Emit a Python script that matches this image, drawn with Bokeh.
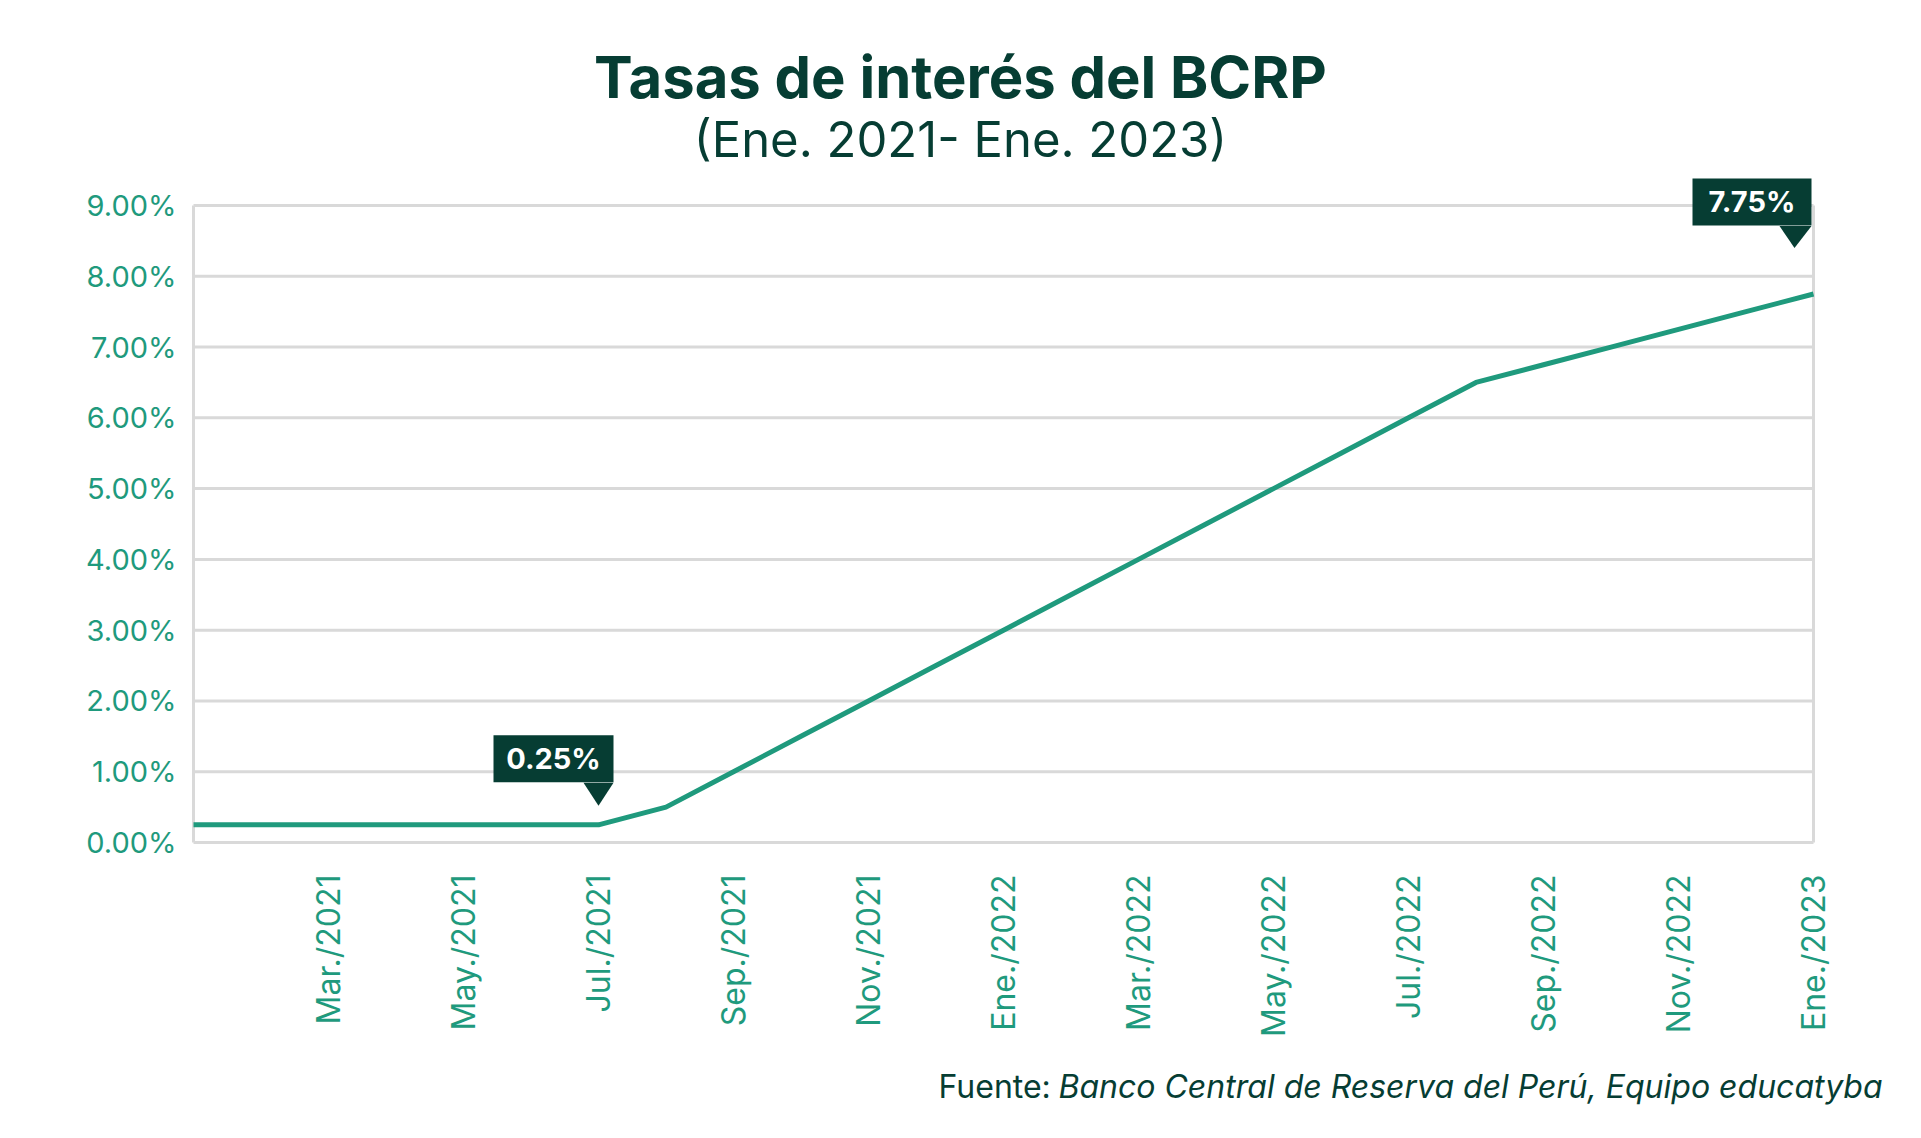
from bokeh.plotting import figure
from bokeh.models import Range1d, FixedTicker, Label
from bokeh.layouts import column
from bokeh.embed import file_html
from bokeh.resources import INLINE

# ---------------- data ----------------
months = ["Ene./2021", "Feb./2021", "Mar./2021", "Abr./2021", "May./2021", "Jun./2021",
          "Jul./2021", "Ago./2021", "Sep./2021", "Oct./2021", "Nov./2021", "Dic./2021",
          "Ene./2022", "Feb./2022", "Mar./2022", "Abr./2022", "May./2022", "Jun./2022",
          "Jul./2022", "Ago./2022", "Sep./2022", "Oct./2022", "Nov./2022", "Dic./2022",
          "Ene./2023"]
rates = [0.25, 0.25, 0.25, 0.25, 0.25, 0.25, 0.25, 0.50, 1.00, 1.50, 2.00, 2.50,
         3.00, 3.50, 4.00, 4.50, 5.00, 5.50, 6.00, 6.50, 6.75, 7.00, 7.25, 7.50, 7.75]
y_ticks = [0, 1, 2, 3, 4, 5, 6, 7, 8, 9]
y_tick_labels = ["0.00%", "1.00%", "2.00%", "3.00%", "4.00%", "5.00%", "6.00%",
                 "7.00%", "8.00%", "9.00%"]
shown_months = ["Mar./2021", "May./2021", "Jul./2021", "Sep./2021", "Nov./2021",
                "Ene./2022", "Mar./2022", "May./2022", "Jul./2022", "Sep./2022",
                "Nov./2022", "Ene./2023"]
callouts = ["Jul./2021", "Ene./2023"]

title = "Tasas de interés del BCRP"
subtitle = "(Ene. 2021- Ene. 2023)"
source_lead = "Fuente:"
source_text = "Banco Central de Reserva del Perú, Equipo educatyba"

# ---------------- style ----------------
TEAL = "#1f9a7d"
DARK = "#063d33"
GRID = "#d9d9d9"
FONT = "Inter"

W = 1920
TOP_H = 176          # title strip height
MAIN_BOTTOM = 1060   # canvas y where the main figure ends
FOOT_H = 76
X0, X1, Y9, Y0 = 193, 1813, 205, 842   # canvas px of first/last month, 9% and 0%
PAD = 3
FL = X0 - PAD        # common left edge of all frames (frames span FL..W)

ppx = (X1 - X0) / (len(months) - 1)
ppy = (Y0 - Y9) / (y_ticks[-1] - y_ticks[0])


def blank(height):
    f = figure(width=W, height=height, output_backend="svg", toolbar_location=None,
               x_range=Range1d(FL, W), y_range=Range1d(0, height),
               x_axis_location=None, y_axis_location=None,
               min_border_left=FL, min_border_right=0, min_border_top=0,
               min_border_bottom=0,
               background_fill_color="white", border_fill_color="white")
    f.title = None
    f.outline_line_color = None
    f.grid.grid_line_color = None
    return f


# ---------------- title strip ----------------
top = blank(TOP_H)
top.add_layout(Label(x=W / 2, y=TOP_H - 76, text=title, text_align="center",
                     text_baseline="alphabetic", text_color=DARK, text_font=FONT,
                     text_font_style="bold", text_font_size="58px"))
top.add_layout(Label(x=W / 2, y=TOP_H - 139, text=subtitle, text_align="center",
                     text_baseline="alphabetic", text_color=DARK, text_font=FONT,
                     text_font_size="49px"))

# ---------------- main chart ----------------
x = list(range(len(months)))
main_h = MAIN_BOTTOM - TOP_H
p = figure(width=W, height=main_h, output_backend="svg", toolbar_location=None,
           x_range=Range1d(-PAD / ppx, len(months) - 1 + (W - X1) / ppx),
           y_range=Range1d(y_ticks[0] - PAD / ppy, y_ticks[-1] + (Y9 - TOP_H) / ppy),
           min_border_left=FL, min_border_right=0,
           min_border_top=0, min_border_bottom=MAIN_BOTTOM - Y0 - PAD,
           background_fill_color="white", border_fill_color="white")
p.title = None
p.outline_line_color = None

p.xaxis.ticker = FixedTicker(ticks=[months.index(m) for m in shown_months])
p.xaxis.major_label_overrides = {months.index(m): m for m in shown_months}
p.xaxis.major_label_orientation = 3.14159265 / 2
p.xaxis.major_label_standoff = 23
p.yaxis.ticker = FixedTicker(ticks=y_ticks)
p.yaxis.major_label_overrides = {t: l for t, l in zip(y_ticks, y_tick_labels)}
p.yaxis.major_label_standoff = 8
for ax in (p.xaxis, p.yaxis):
    ax.axis_line_color = None
    ax.major_tick_line_color = None
    ax.minor_tick_line_color = None
    ax.major_label_text_color = TEAL
    ax.major_label_text_font = FONT
p.xaxis.major_label_text_font_size = "32px"
p.yaxis.major_label_text_font_size = "29px"
p.xgrid.grid_line_color = None
p.ygrid.grid_line_color = None

# horizontal gridlines and side borders of the plot area, spanning the months
p.segment(x0=[x[0]] * len(y_ticks), y0=y_ticks, x1=[x[-1]] * len(y_ticks), y1=y_ticks,
          line_color=GRID, line_width=3)
p.segment(x0=[x[0], x[-1]], y0=[y_ticks[0]] * 2, x1=[x[0], x[-1]], y1=[y_ticks[-1]] * 2,
          line_color=GRID, line_width=3)

# series
p.line(x, rates, line_color=TEAL, line_width=5)

# callouts (px offsets converted to data units)
specs = [  # box dx, dy, w, h, tri left dx, right dx, tip dx, tip dy, base dy
    (-45, 66, 120, 47, -15, 15, 0, 19, 42),
    (-61.5, 92, 119, 47, -34, -2, -19, 46, 68),
]
for m, s in zip(callouts, specs):
    i = months.index(m)
    xv, yv = x[i], rates[i]
    cx, cy = xv + s[0] / ppx, yv + s[1] / ppy
    p.rect(x=[cx], y=[cy], width=s[2], height=s[3], width_units="screen",
           height_units="screen", fill_color=DARK, line_color=None)
    p.patch([xv + s[4] / ppx, xv + s[5] / ppx, xv + s[6] / ppx],
            [yv + s[8] / ppy, yv + s[8] / ppy, yv + s[7] / ppy],
            fill_color=DARK, line_color=None)
    p.add_layout(Label(x=cx, y=cy, text=f"{rates[i]:.2f}%", text_align="center",
                       text_baseline="middle", text_color="white",
                       text_font=FONT, text_font_style="bold", text_font_size="29px"))

# ---------------- footer ----------------
foot = blank(FOOT_H)
base = FOOT_H - (1086 - MAIN_BOTTOM)
foot.add_layout(Label(x=938, y=base, text=source_lead, text_align="left",
                      text_baseline="alphabetic", text_color=DARK, text_font=FONT,
                      text_font_size="32px"))
foot.add_layout(Label(x=1058, y=base, text=source_text, text_align="left",
                      text_baseline="alphabetic", text_color=DARK, text_font=FONT,
                      text_font_style="italic", text_font_size="32px"))

layout = column(top, p, foot, spacing=0)
open("out.html", "w").write(file_html(layout, INLINE))
